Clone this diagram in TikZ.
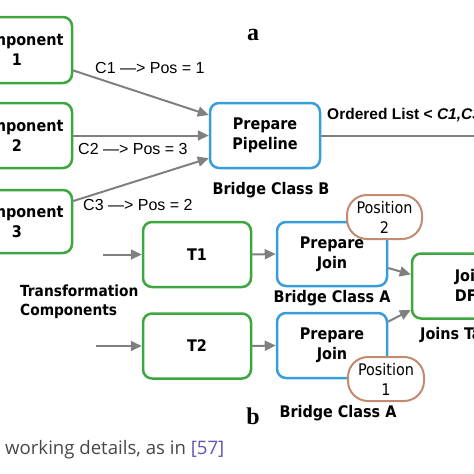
\documentclass[tikz,border=0pt]{standalone}
\usepackage{fontspec}
\setmainfont{Liberation Sans}
\newfontfamily\boxfont{DejaVu Sans Condensed}
\newfontfamily\letterfont{Liberation Serif}
\newfontfamily\captionfont{Open Sans}
\usetikzlibrary{arrows.meta}

\definecolor{compgreen}{rgb}{0.24,0.65,0.25}
\definecolor{bridgeblue}{rgb}{0.22,0.62,0.86}
\definecolor{postan}{rgb}{0.76,0.54,0.44}
\definecolor{arrowgray}{rgb}{0.50,0.50,0.50}
\definecolor{citeblue}{rgb}{0.36,0.34,0.70}

\tikzset{
  compbox/.style={draw=compgreen, line width=2.5pt, rounded corners=9pt, fill=white,
    inner sep=0pt, align=center, font=\boxfont\bfseries\fontsize{16}{20}\selectfont},
  bridgebox/.style={compbox, draw=bridgeblue},
  posbox/.style={draw=postan, line width=2pt, rounded corners=20pt, fill=white,
    inner sep=0pt, align=center, minimum width=75pt, minimum height=44pt,
    font=\boxfont\fontsize{16}{20}\selectfont},
  conn/.style={draw=arrowgray, line width=2pt, -{Triangle[length=11pt,width=10pt]}},
  poslabel/.style={anchor=west, inner sep=0pt, font=\fontsize{16}{20}\selectfont},
  classlabel/.style={inner sep=0pt, font=\boxfont\bfseries\fontsize{16}{20}\selectfont},
  partlabel/.style={inner sep=0pt, font=\letterfont\bfseries\fontsize{24}{24}\selectfont},
}

\begin{document}
\begin{tikzpicture}[x=1pt, y=-1pt]
\useasboundingbox (0,0) rectangle (474,474);
\clip (0,0) rectangle (474,474);

% faint marks at the left edge
\fill[orange!20] (1,70) circle (3);
\fill[orange!20] (1,156) circle (3);
\fill[orange!20] (0,241) circle (2.5);

% a: pipeline
\node[partlabel] (lettera) at (253,35) {a};

\node[compbox, minimum width=110pt, minimum height=66pt] (comp1) at (17,50) {Component\\1};
\node[compbox, minimum width=110pt, minimum height=65pt] (comp2) at (17,135.5) {Component\\2};
\node[compbox, minimum width=110pt, minimum height=63pt] (comp3) at (17,221.5) {Component\\3};

\node[bridgebox, minimum width=110pt, minimum height=65pt] (pipe) at (265,135.5) {Prepare\\Pipeline};
\node[classlabel] (pipeclass) at (271,190) {Bridge Class B};

\draw[conn] (comp1.-20) -- (pipe.160);
\draw[conn] (comp2.east) -- (pipe.west);
\draw[conn] (comp3.20) -- (pipe.202);

\node[poslabel] (lab1) at (95,68) {C1 —> Pos = 1};
\node[poslabel] (lab2) at (78,149) {C2 —> Pos = 3};
\node[poslabel] (lab3) at (83,205) {C3 —> Pos = 2};

\coordinate (listend) at (480,135.5);
\draw[draw=arrowgray, line width=2pt] (pipe.east) -- (listend);
\node[anchor=west, inner sep=0pt, font=\bfseries\fontsize{15.5}{18}\selectfont] (listlab) at (327,115) {Ordered List < \textit{C1,C3,C2} >};

% b: joins
\node[compbox, minimum width=108pt, minimum height=65pt] (t1) at (197,254.5) {T1};
\node[compbox, minimum width=108pt, minimum height=65pt] (t2) at (197,346) {T2};
\coordinate (t1in) at (103,254.5);
\coordinate (t2in) at (96,346);
\draw[conn] (t1in) -- (t1.west);
\draw[conn] (t2in) -- (t2.west);
\node[anchor=west, inner sep=0pt, align=left, font=\boxfont\bfseries\fontsize{15.3}{19}\selectfont] (translab) at (20,302) {Transformation\\Components};

\node[bridgebox, minimum width=110pt, minimum height=64pt] (join1) at (332,254) {Prepare\\Join};
\node[bridgebox, minimum width=110pt, minimum height=65pt] (join2) at (332,345.5) {Prepare\\Join};
\node[classlabel] (joinclass1) at (332,298) {Bridge Class A};
\node[classlabel] (joinclass2) at (338,413) {Bridge Class A};

\draw[conn] (t1.east) -- (join1.west);
\draw[conn] (t2.east) -- (join2.west);

\node[posbox] (pos2) at (384.5,217) {Position\\2};
\node[posbox, minimum width=76pt] (pos1) at (386,379) {Position\\1};

\node[compbox, minimum width=116pt, minimum height=65pt] (joindf) at (470,286) {Join\\DFs};
\node[classlabel, anchor=west] (joindflab) at (420,335) {Joins Tables};

\draw[conn] (join1.-14) -- (joindf.169);
\draw[conn] (join2.23) -- (joindf.202);

\node[partlabel] (letterb) at (253,416) {b};

% caption fragment
\node[anchor=west, inner sep=0pt, text=black!72, font=\captionfont\fontsize{18.6}{22}\selectfont] (caption) at (5,450) {working details, as in \textcolor{citeblue}{[57]}};
\end{tikzpicture}
\end{document}
